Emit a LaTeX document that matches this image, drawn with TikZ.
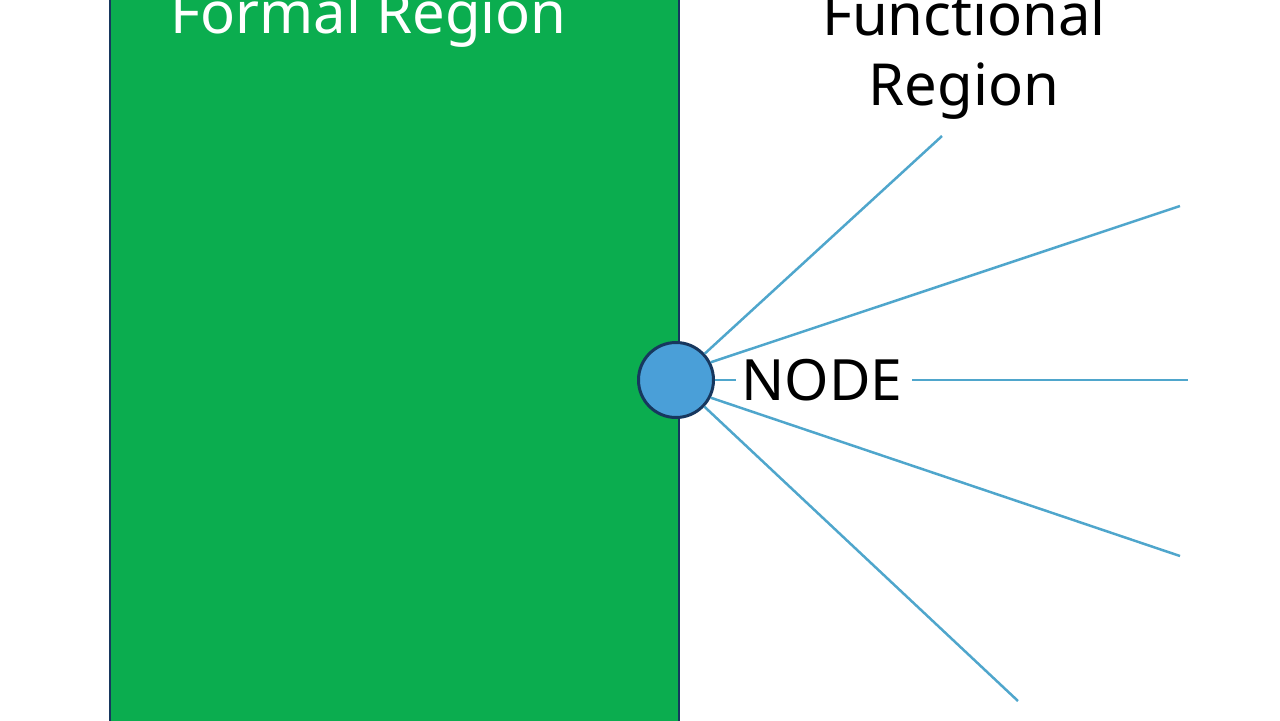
\documentclass[tikz,border=0pt]{standalone}
\usepackage{fontspec}
\setmainfont{Noto Sans}
\definecolor{regiongreen}{HTML}{0BAD4F}
\definecolor{nodeblue}{HTML}{4A9FD8}
\definecolor{linkblue}{HTML}{4FA6CC}
\definecolor{edgenavy}{HTML}{17375E}
\tikzset{
  link/.style = {draw=linkblue, line width=0.025cm},
  bigtext/.style = {font=\fontsize{16.5}{19.9}\selectfont, align=center, inner sep=0pt, anchor=base}
}
\begin{document}
\begin{tikzpicture}[x=0.1cm, y=-0.1cm]
\useasboundingbox (0,0) rectangle (128,72);
\clip (0,0) rectangle (128,72);
% regions
\fill[regiongreen] (11,-1) rectangle (67.9,73);
\draw[edgenavy, line width=0.02cm] (11,-1) -- (11,73);
\draw[edgenavy, line width=0.02cm] (67.9,-1) -- (67.9,73);
\node[bigtext, text=white] at (36.85,3.3) (formal) {Formal Region};
\node[bigtext, text=black] at (96.4,10.5) (functional) {Functional\\Region};
% end points
\coordinate (e1) at (94.2,13.6);
\coordinate (e2) at (118,20.6);
\coordinate (s3) at (91.2,38);
\coordinate (e3) at (118.8,38);
\coordinate (e4) at (118,55.6);
\coordinate (e5) at (101.8,70.1);
\node[circle, draw=edgenavy, fill=nodeblue, line width=0.03cm, minimum size=0.75cm, inner sep=0pt] at (67.6,38) (hub) {};
\node[font=\fontsize{16.2}{19.9}\selectfont, inner sep=0.05cm] at (82.2,38) (nodelabel) {NODE};
\draw[link] (hub) -- (e1);
\draw[link] (hub.27) -- (e2);
\draw[link] (hub) -- (nodelabel);
\draw[link] (s3) -- (e3);
\draw[link] (hub.-27) -- (e4);
\draw[link] (hub) -- (e5);
\end{tikzpicture}
\end{document}
